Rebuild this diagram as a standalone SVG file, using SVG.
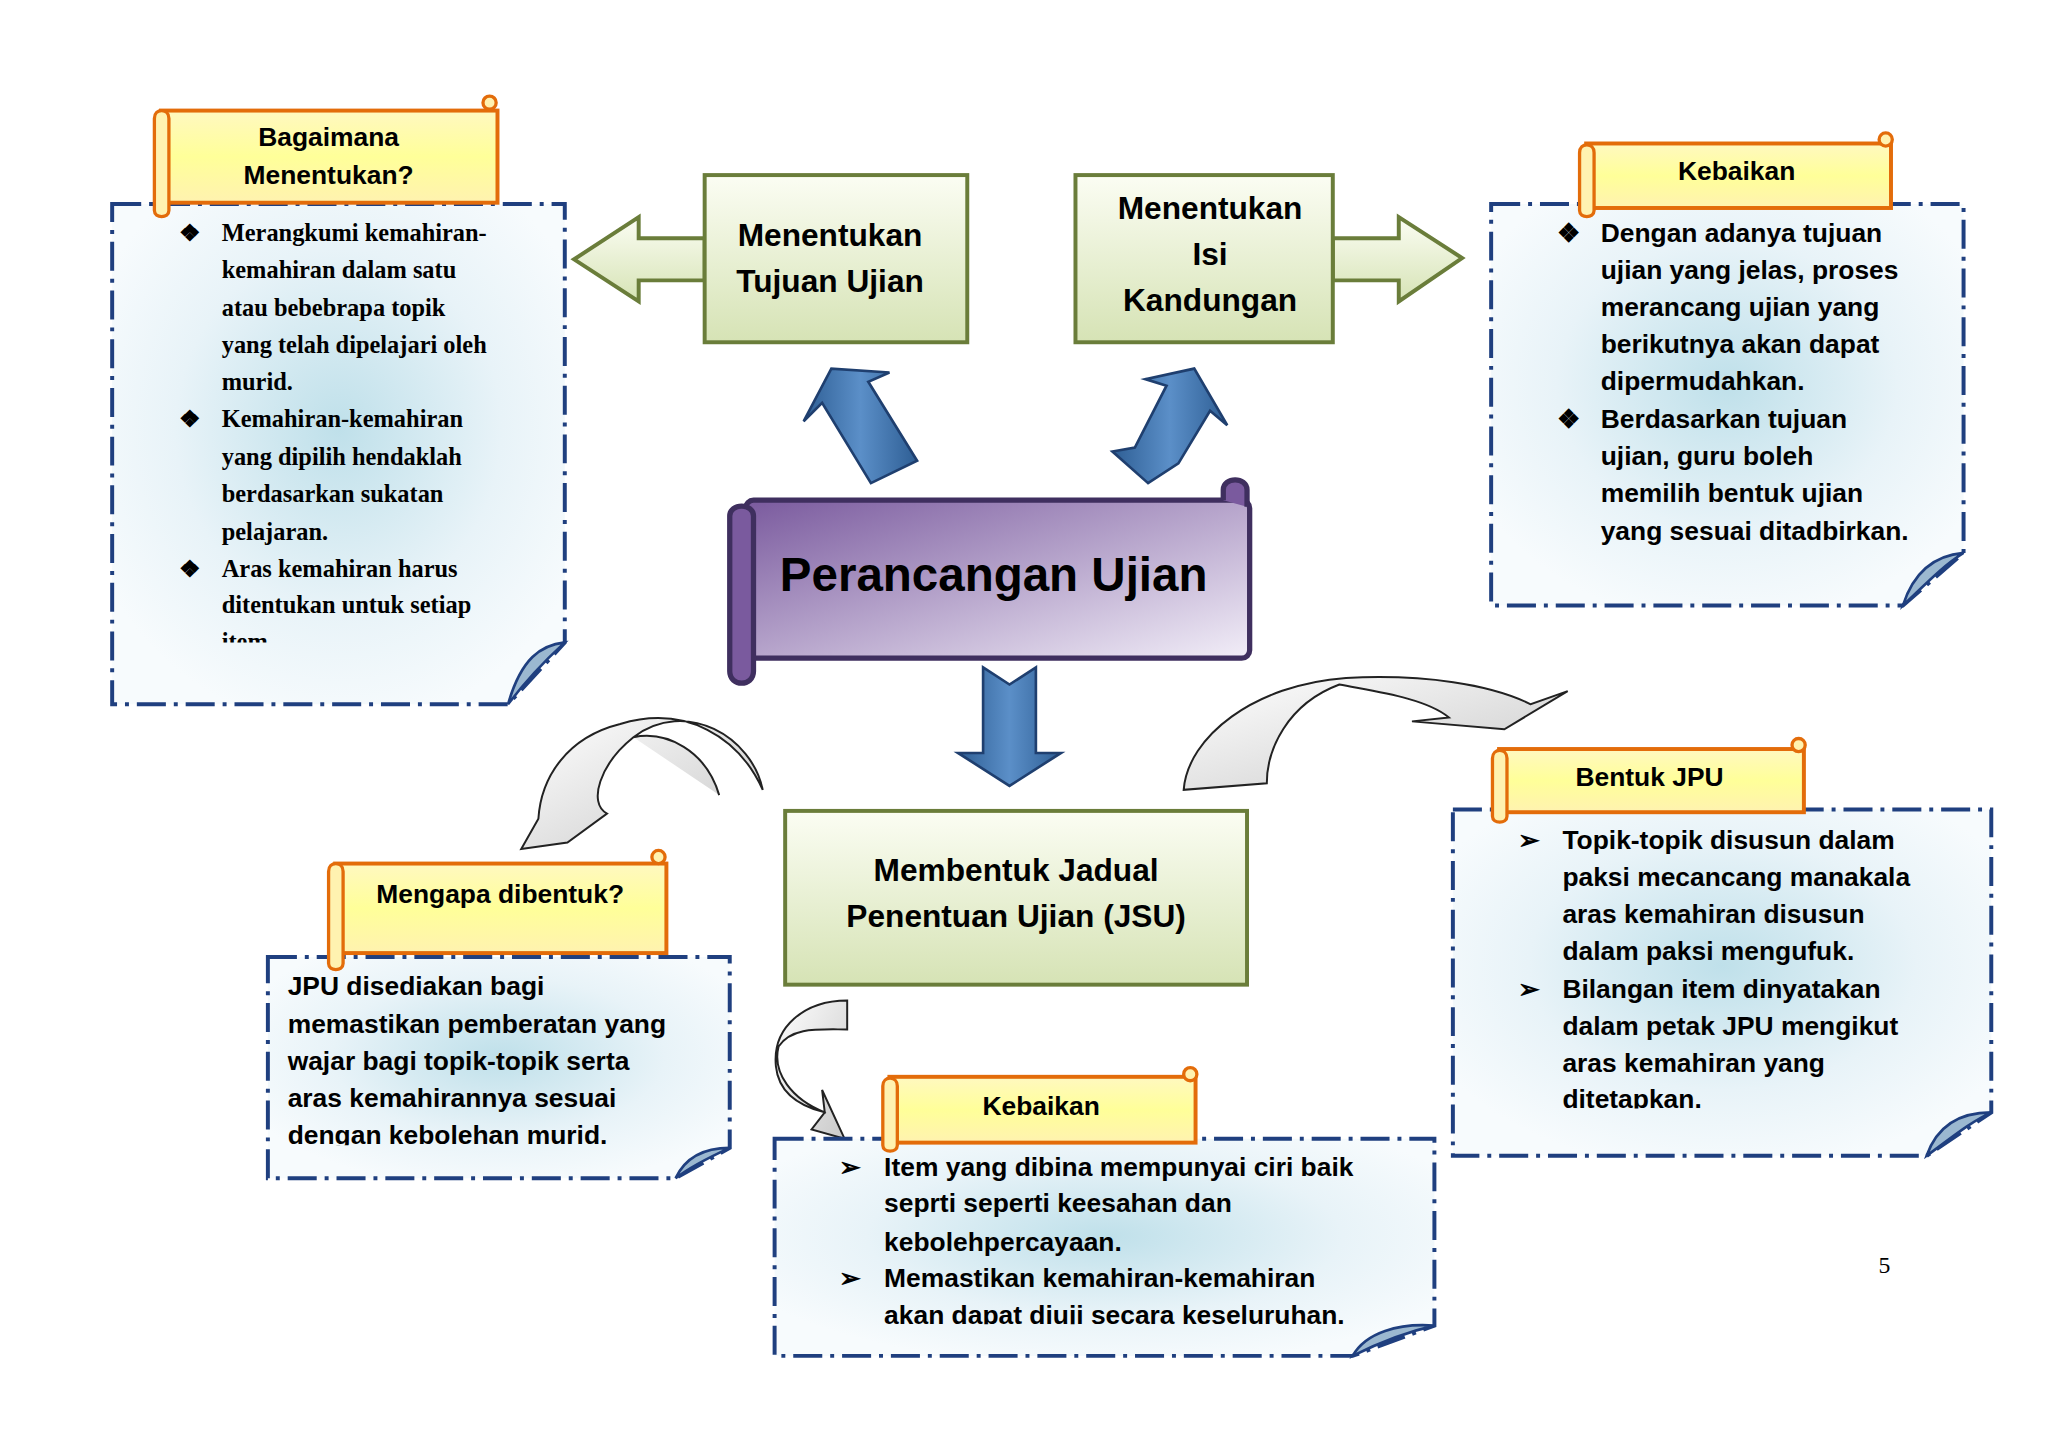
<svg xmlns="http://www.w3.org/2000/svg" width="2048" height="1448" viewBox="0 0 2048 1448">
<defs>
<linearGradient id="yel" x1="0" y1="0" x2="0" y2="1"><stop offset="0" stop-color="#fff8c0"/><stop offset="0.5" stop-color="#ffff99"/><stop offset="1" stop-color="#fff2b0"/></linearGradient>
<linearGradient id="grn" x1="0" y1="0" x2="0" y2="1"><stop offset="0" stop-color="#fbfdf3"/><stop offset="1" stop-color="#d6e3b5"/></linearGradient>
<linearGradient id="pur" x1="0" y1="0" x2="1" y2="1"><stop offset="0" stop-color="#7a5a9e"/><stop offset="1" stop-color="#f2eef8"/></linearGradient>
<radialGradient id="blu" cx="0.5" cy="0.45" r="0.6"><stop offset="0" stop-color="#bfe0ea"/><stop offset="0.6" stop-color="#e8f3f8"/><stop offset="1" stop-color="#f7fbfd"/></radialGradient>
<linearGradient id="barr" x1="0" y1="0" x2="1" y2="0"><stop offset="0" stop-color="#2e5e94"/><stop offset="0.5" stop-color="#5b8fc8"/><stop offset="1" stop-color="#2e5e94"/></linearGradient>
<linearGradient id="gry" x1="0" y1="0" x2="1" y2="1"><stop offset="0" stop-color="#ffffff"/><stop offset="1" stop-color="#c8c8c8"/></linearGradient>
<clipPath id="c1"><rect x="85" y="160" width="340" height="328"/></clipPath>
<clipPath id="c2"><rect x="203" y="730" width="350" height="140"/></clipPath>
<clipPath id="c3"><rect x="587" y="868" width="500" height="138"/></clipPath>
<clipPath id="c4"><rect x="1101" y="620" width="408" height="222"/></clipPath>
</defs>
<style>
.note{fill:url(#blu);stroke:#1f3f7f;stroke-width:3;stroke-dasharray:22 6 3 6}
.fold{fill:#9bb8d0;stroke:#1f3f7f;stroke-width:2}
.lab{fill:url(#yel);stroke:#e36c0a;stroke-width:3}
.curl{fill:#fff2b0;stroke:#e36c0a;stroke-width:2.5}
.gbox{fill:url(#grn);stroke:#6a7d3a;stroke-width:3}
.barr{fill:url(#barr);stroke:#1f3f6f;stroke-width:2}
.garr{fill:url(#gry);stroke:#222;stroke-width:1.5}
.s{font-family:"Liberation Sans",Arial,sans-serif;font-weight:bold;fill:#000}
.r{font-family:"Liberation Serif","Times New Roman",serif;font-weight:bold;fill:#000}
</style>
<g transform="scale(1.3196 1.3164)">
<g id="connectors">
<path class="gbox" d="M534,181 H484 V165 L435,197 L484,229 V213 H534 Z"/>
<path class="gbox" d="M1010,181 H1060 V165 L1108,196 L1060,229 V213 H1010 Z"/>
<path class="barr" d="M660,367 L623,306 L609,320 L630,280 L674,283 L658,290 L695,350 Z"/>
<path class="barr" d="M870,367 L843,343 L860,340 L884,293 L868,288 L905,280 L930,323 L917,312 L893,352 Z"/>
<path class="barr" d="M745,507 L765,520 L785,507 V572 H804 L765,597 L726,572 H745 Z"/>
<path class="garr" d="M578,600 C570,560 520,530 480,560 C455,580 445,610 460,618 L430,640 L395,645 L408,622 C410,590 430,560 470,550 C520,535 560,560 578,600 Z M545,604 C535,570 505,555 480,560"/>
<path class="garr" d="M897,600 C900,560 950,520 1020,515 C1080,512 1130,520 1160,535 L1188,525 L1140,554 L1070,548 L1098,545 C1080,530 1040,525 1015,520 C975,535 960,570 960,595 Z"/>
<path class="garr" d="M642,760 C610,760 585,780 588,810 C590,830 605,840 625,845 L623,828 L640,865 L615,858 L625,845 C600,835 585,815 590,795 C600,780 620,782 642,782 Z"/>
</g>
<g id="n1">
<path class="note" d="M85,155 H428 V488 L385,535 H85 Z"/>
<path class="fold" d="M428,488 C410,490 395,500 385,535 C400,515 415,500 428,488 Z"/>
<g clip-path="url(#c1)" class="r" font-size="18.5">
<text x="136" y="183">❖</text><text x="168" y="183">Merangkumi kemahiran-</text>
<text x="168" y="211">kemahiran dalam satu</text><text x="168" y="240">atau bebebrapa topik</text>
<text x="168" y="268">yang telah dipelajari oleh</text><text x="168" y="296">murid.</text>
<text x="136" y="324">❖</text><text x="168" y="324">Kemahiran-kemahiran</text>
<text x="168" y="353">yang dipilih hendaklah</text><text x="168" y="381">berdasarkan sukatan</text>
<text x="168" y="410">pelajaran.</text>
<text x="136" y="438">❖</text><text x="168" y="438">Aras kemahiran harus</text>
<text x="168" y="466">ditentukan untuk setiap</text><text x="168" y="494">item</text>
</g>
</g>
<g id="l1">
<rect class="lab" x="122" y="84" width="255" height="70"/>
<path class="curl" d="M117,90 C117,82 128,82 128,90 V160 C128,166 117,166 117,160 Z"/>
<circle class="curl" cx="371" cy="78" r="5"/>
<text class="s" font-size="20" text-anchor="middle" x="249" y="111">Bagaimana</text>
<text class="s" font-size="20" text-anchor="middle" x="249" y="140">Menentukan?</text>
</g>
<g id="n2"><rect class="gbox" x="534" y="133" width="199" height="127"/>
<text class="s" font-size="24" text-anchor="middle" x="629" y="187">Menentukan</text>
<text class="s" font-size="24" text-anchor="middle" x="629" y="222">Tujuan Ujian</text></g>
<g id="n3"><rect class="gbox" x="815" y="133" width="195" height="127"/>
<text class="s" font-size="24" text-anchor="middle" x="917" y="166">Menentukan</text>
<text class="s" font-size="24" text-anchor="middle" x="917" y="201">Isi</text>
<text class="s" font-size="24" text-anchor="middle" x="917" y="236">Kandungan</text></g>
<g id="n4">
<rect x="565" y="380" width="382" height="120" rx="6" fill="url(#pur)" stroke="#3f2f5f" stroke-width="4"/>
<path d="M553,392 C553,382 571,382 571,392 V510 C571,522 553,522 553,510 Z" fill="#7a5a9e" stroke="#3f2f5f" stroke-width="4"/>
<path d="M927,380 V372 C927,362 945,362 945,372 V385" fill="#7a5a9e" stroke="#3f2f5f" stroke-width="4"/>
<text class="s" font-size="36" text-anchor="middle" x="753" y="449">Perancangan Ujian</text>
</g>
<g id="n5"><rect class="gbox" x="595" y="616" width="350" height="132"/>
<text class="s" font-size="24" text-anchor="middle" x="770" y="669">Membentuk Jadual</text>
<text class="s" font-size="24" text-anchor="middle" x="770" y="704">Penentuan Ujian (JSU)</text></g>
<g id="n6">
<path class="note" d="M203,727 H553 V872 L512,895 H203 Z"/>
<path class="fold" d="M553,872 C535,872 520,878 512,895 C525,885 540,878 553,872 Z"/>
<g clip-path="url(#c2)" class="s" font-size="20">
<text x="218" y="756">JPU disediakan bagi</text><text x="218" y="785">memastikan pemberatan yang</text>
<text x="218" y="813">wajar bagi  topik-topik serta</text><text x="218" y="841">aras kemahirannya sesuai</text>
<text x="218" y="869">dengan kebolehan murid.</text></g>
</g>
<g id="l6">
<rect class="lab" x="254" y="656" width="251" height="68"/>
<path class="curl" d="M249,662 C249,654 260,654 260,662 V732 C260,738 249,738 249,732 Z"/>
<circle class="curl" cx="499" cy="651" r="5"/>
<text class="s" font-size="20" text-anchor="middle" x="379" y="686">Mengapa dibentuk?</text>
</g>
<g id="n7">
<path class="note" d="M587,865 H1087 V1007 L1025,1030 H587 Z"/>
<path class="fold" d="M1087,1007 C1060,1005 1035,1012 1025,1030 C1045,1020 1065,1012 1087,1007 Z"/>
<g clip-path="url(#c3)" class="s" font-size="20">
<text x="636" y="893">➢</text><text x="670" y="893">Item yang dibina mempunyai ciri baik</text>
<text x="670" y="921">seprti seperti keesahan dan</text><text x="670" y="950">kebolehpercayaan.</text>
<text x="636" y="978">➢</text><text x="670" y="978">Memastikan kemahiran-kemahiran</text>
<text x="670" y="1006">akan dapat diuji secara keseluruhan.</text></g>
</g>
<g id="l7">
<rect class="lab" x="674" y="818" width="232" height="50"/>
<path class="curl" d="M669,825 C669,817 680,817 680,825 V870 C680,876 669,876 669,870 Z"/>
<circle class="curl" cx="902" cy="816" r="5"/>
<text class="s" font-size="20" text-anchor="middle" x="789" y="847">Kebaikan</text>
</g>
<g id="n8">
<path class="note" d="M1130,155 H1488 V420 L1442,460 H1130 Z"/>
<path class="fold" d="M1488,420 C1465,422 1450,435 1442,460 C1458,445 1472,430 1488,420 Z"/>
<g class="s" font-size="20">
<text x="1180" y="184">❖</text><text x="1213" y="184">Dengan adanya tujuan</text>
<text x="1213" y="212">ujian yang jelas, proses</text><text x="1213" y="240">merancang ujian yang</text>
<text x="1213" y="268">berikutnya akan dapat</text><text x="1213" y="296">dipermudahkan.</text>
<text x="1180" y="325">❖</text><text x="1213" y="325">Berdasarkan tujuan</text>
<text x="1213" y="353">ujian, guru boleh</text><text x="1213" y="381">memilih bentuk ujian</text>
<text x="1213" y="410">yang sesuai ditadbirkan.</text></g>
</g>
<g id="l8">
<rect class="lab" x="1202" y="109" width="231" height="49"/>
<path class="curl" d="M1197,116 C1197,108 1208,108 1208,116 V160 C1208,166 1197,166 1197,160 Z"/>
<circle class="curl" cx="1429" cy="106" r="5"/>
<text class="s" font-size="20" text-anchor="middle" x="1316" y="137">Kebaikan</text>
</g>
<g id="n9">
<path class="note" d="M1101,615 H1509 V845 L1460,878 H1101 Z"/>
<path class="fold" d="M1509,845 C1485,845 1468,855 1460,878 C1478,865 1492,853 1509,845 Z"/>
<g clip-path="url(#c4)" class="s" font-size="20">
<text x="1150" y="645">➢</text><text x="1184" y="645">Topik-topik disusun dalam</text>
<text x="1184" y="673">paksi mecancang manakala</text><text x="1184" y="701">aras kemahiran disusun</text>
<text x="1184" y="729">dalam paksi mengufuk.</text>
<text x="1150" y="758">➢</text><text x="1184" y="758">Bilangan item dinyatakan</text>
<text x="1184" y="786">dalam petak JPU mengikut</text><text x="1184" y="814">aras kemahiran yang</text>
<text x="1184" y="842">ditetapkan.</text></g>
</g>
<g id="l9">
<rect class="lab" x="1136" y="569" width="231" height="48"/>
<path class="curl" d="M1131,576 C1131,568 1142,568 1142,576 V620 C1142,626 1131,626 1131,620 Z"/>
<circle class="curl" cx="1363" cy="566" r="5"/>
<text class="s" font-size="20" text-anchor="middle" x="1250" y="597">Bentuk JPU</text>
</g>
<text x="1428" y="967" font-family="Liberation Serif,serif" font-size="18" text-anchor="middle">5</text>
</g>
</svg>
